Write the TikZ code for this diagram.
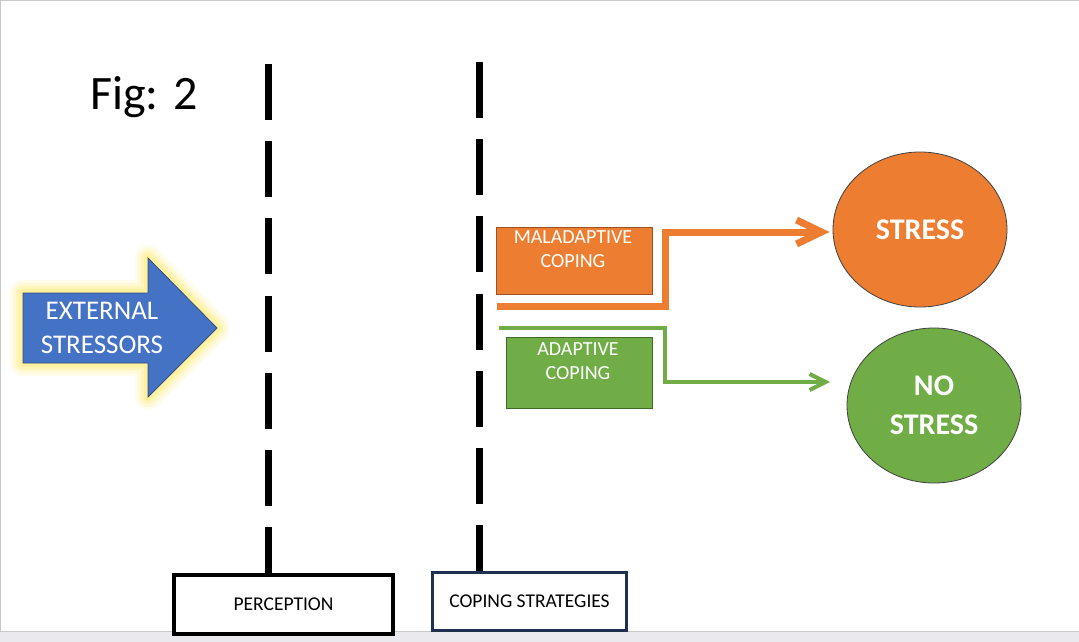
\documentclass[tikz,border=0pt]{standalone}
\usepackage{fontspec}
\setmainfont{Carlito}
\usetikzlibrary{arrows.meta,shapes.geometric}
\definecolor{oran}{HTML}{ED7D31}
\definecolor{oranedge}{HTML}{9C5224}
\definecolor{gren}{HTML}{70AD47}
\definecolor{grenedge}{HTML}{3F6B27}
\definecolor{blu}{HTML}{4472C4}
\definecolor{bluedge}{HTML}{2F4E85}
\definecolor{navy}{HTML}{1F3050}
\definecolor{bandgrey}{HTML}{EAEAEE}
\definecolor{edgegrey}{HTML}{C8C8C8}
\definecolor{glow}{HTML}{FFE84A}
\tikzset{
  divider/.style={line width=7pt, draw=black, dash pattern=on 56pt off 21.2pt},
  labelbox/.style={rectangle, draw, fill=white, inner sep=0pt, font=\fontsize{19.5}{23}\selectfont},
  copebox/.style={rectangle, draw=#1, line width=1pt, inner sep=0pt},
  boxtext/.style={align=center, text=white, inner sep=0pt, font=\fontsize{20}{24.5}\selectfont},
  outcome/.style={ellipse, draw=black!75, line width=0.8pt, inner sep=0pt, minimum width=174pt, minimum height=155pt, text=white, align=center, font=\bfseries\fontsize{30}{39}\selectfont},
  orangeflow/.style={draw=oran, line width=7pt, line join=miter, -{Straight Barb[length=25pt,width=24pt]}},
  greenflow/.style={draw=gren, line width=4pt, line join=miter, -{Straight Barb[length=16pt,width=16pt]}},
}
\begin{document}
\begin{tikzpicture}[x=1pt,y=-1pt]
\useasboundingbox (0,0) rectangle (1079,642);
\fill[white] (0,0) rectangle (1079,642);
\fill[bandgrey] (0,631) rectangle (1079,642);
\draw[edgegrey, line width=1pt] (0,631) -- (1079,631);
\draw[edgegrey, line width=1.2pt] (0,0.6) -- (1079,0.6);
\draw[edgegrey, line width=1.2pt] (0.6,0) -- (0.6,631);

% title
\node[anchor=base west, inner sep=0pt, font=\fontsize{48}{58}\selectfont] (title) at (90,110) {Fig: 2};

% external stressors arrow with glow
\foreach \w/\o in {26/0.10, 20/0.14, 14/0.18, 8/0.25} {
  \draw[glow, line width=\w pt, line join=round, opacity=\o]
    (23,293) -- (148,293) -- (148,258) -- (217,328) -- (148,397) -- (148,363) -- (23,363) -- cycle;
}
\draw[fill=blu, draw=bluedge, line width=0.8pt]
  (23,293) -- (148,293) -- (148,258) -- (217,328) -- (148,397) -- (148,363) -- (23,363) -- cycle;
\node[align=center, text=white, inner sep=0pt, font=\fontsize{27}{33.5}\selectfont] (ext) at (102,328) {EXTERNAL\\STRESSORS};

% bottom label boxes
\node[labelbox, draw=black, line width=4pt, minimum width=219pt, minimum height=59pt] (perc) at (283.5,604.5) {PERCEPTION};
\node[labelbox, draw=navy, line width=3pt, minimum width=194pt, minimum height=58pt] (cope) at (529.5,601.5) {COPING STRATEGIES};

% dashed dividers
\coordinate (ptop) at (268,64);
\coordinate (ctop) at (479,62);
\draw[divider] (ptop) -- (perc.north -| ptop);
\draw[divider] (ctop) -- (cope.north -| ctop);

% coping boxes
\node[copebox=oranedge, fill=oran, minimum width=156pt, minimum height=67pt] (mal) at (574.5,261) {};
\node[boxtext] (maltext) at (573,249) {MALADAPTIVE\\COPING};
\node[copebox=grenedge, fill=gren, minimum width=146pt, minimum height=71pt] (ada) at (579.5,373) {};
\node[boxtext] (adatext) at (578,361) {ADAPTIVE\\COPING};

% outcomes
\node[outcome, fill=oran] (stress) at (920,229.5) {STRESS};
\node[outcome, fill=gren] (nostress) at (934,405.5) {NO\\STRESS};

% connectors
\coordinate (mstart) at (497,306);
\coordinate (astart) at (499,328);
\coordinate (aend) at (830,382);
\draw[orangeflow] (mstart) -- (665,306) -- (665,232) -- ([xshift=-3pt]stress.west |- 0,232);
\draw[greenflow] (astart) -- (665,328) -- (665,382) -- (aend);
\end{tikzpicture}
\end{document}
